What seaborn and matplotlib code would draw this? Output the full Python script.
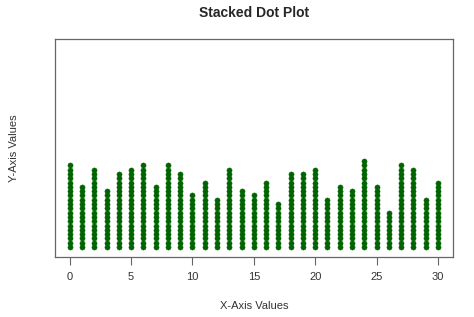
import numpy as np
import pandas as pd
import matplotlib
matplotlib.use("Agg")
import matplotlib.pyplot as plt
import seaborn as sns

# values 0..30 and how many dots are stacked on each one
x_values = list(range(31))
counts = [20, 15, 19, 14, 18, 19, 20, 15, 20, 18,
          13, 16, 12, 19, 14, 13, 16, 11, 18, 18,
          19, 12, 15, 14, 21, 15, 9, 20, 19, 12, 16]
x_ticks = [0, 5, 10, 15, 20, 25, 30]

# one row per dot, y is its position in the stack
rows = []
for xv, n in zip(x_values, counts):
    for k in range(n):
        rows.append((xv, k))
df = pd.DataFrame(rows, columns=["x", "level"])

sns.set_style("white")
plt.rcParams["font.family"] = ["Liberation Sans", "DejaVu Sans"]

fig = plt.figure(figsize=(4.74, 3.17), dpi=100)
ax = fig.add_axes([0.116, 0.190, 0.839, 0.687])

sns.scatterplot(data=df, x="x", y="level", color="#006400", s=14,
                edgecolor="#006400", linewidth=0.3, ax=ax, legend=False)

ax.set_xlim(-1.2, 31.2)
ax.set_ylim(-2.26, 48.4)
ax.set_xticks(x_ticks)
ax.set_xticklabels([str(t) for t in x_ticks], fontsize=8, color="#333333")
ax.set_yticks([])
ax.tick_params(axis="x", direction="out", length=6, width=0.8,
               color="#666666", pad=5, bottom=True)

for sp in ax.spines.values():
    sp.set_visible(True)
    sp.set_color("#666666")
    sp.set_linewidth(0.9)

ax.set_xlabel("X-Axis Values", fontsize=8, color="#333333", labelpad=14)
ax.set_ylabel("Y-Axis Values", fontsize=8, color="#333333", labelpad=26)
fig.text(0.536, 0.958, "Stacked Dot Plot", ha="center", va="center",
         fontsize=10, fontweight="bold")

fig.savefig("out.png", dpi=100)
